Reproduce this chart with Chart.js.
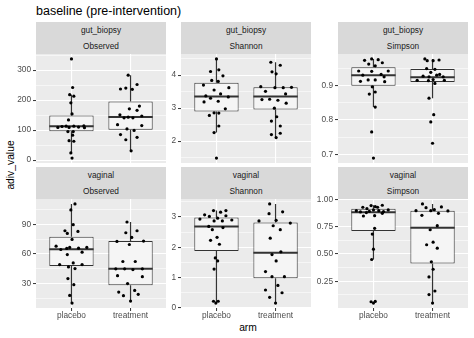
<!DOCTYPE html>
<html>
<head>
<meta charset="utf-8">
<script src="https://cdn.jsdelivr.net/npm/chart.js@4.4.1/dist/chart.umd.min.js"></script>
<style>
  body { margin: 0; background: #fff; font-family: "Liberation Sans", Arial, sans-serif; }
  #fig { position: relative; width: 474px; height: 338px; overflow: hidden; background: #fff; }
  .strip { position: absolute; background: #D9D9D9; color: #1A1A1A; font-size: 8.3px; text-align: center; }
  .strip div { height: 16px; line-height: 16px; }
  .panel { position: absolute; }
  #title { position: absolute; left: 36px; top: 3px; font-size: 12.5px; line-height: 16px; color: #000; }
  #xlab { position: absolute; left: 208px; width: 80px; top: 320px; font-size: 10.3px; line-height: 16px; text-align: center; color: #000; }
  #ylab { position: absolute; left: 10px; top: 165px; transform: translate(-50%, -50%) rotate(-90deg); font-size: 10.3px; white-space: nowrap; color: #000; }
</style>
</head>
<body>
<div id="fig">
  <div id="title">baseline (pre-intervention)</div>
  <div id="ylab">adiv_value</div>
  <div id="xlab">arm</div>
</div>
<script>
Chart.defaults.font.family = '"Liberation Sans", Arial, sans-serif';

const arms = ['placebo', 'treatment'];
const sites = ['gut_biopsy', 'gut_biopsy', 'gut_biopsy', 'vaginal', 'vaginal', 'vaginal'];
const metrics = ['Observed', 'Shannon', 'Simpson', 'Observed', 'Shannon', 'Simpson'];

// points: values and horizontal jitter (offset from the arm position)
const gutObsPlacebo = [337, 242, 218, 213, 191, 154, 134, 109, 112, 113, 109, 113, 110, 114, 108, 95, 95, 83, 65, 63, 24, 7];
const gutObsPlaceboJit = [0, 0.02, -0.03, 0.04, -0.01, 0.01, -0.05, -0.23, -0.16, -0.09, -0.04, 0.04, 0.12, 0.21, 0.22, -0.06, 0.03, 0.02, -0.04, 0.04, -0.01, 0.01];
const gutObsTreatment = [283, 237, 240, 236, 252, 171, 180, 166, 151, 141, 143, 141, 147, 118, 104, 99, 115, 85, 68, 76, 31];
const gutObsTreatmentJit = [-0.04, -0.17, -0.08, 0.03, 0.11, -0.02, 0.15, 0.11, -0.18, -0.11, -0.04, 0.04, 0.19, -0.22, -0.06, 0.06, 0.19, -0.17, -0.08, 0.11, 0.01];

const gutShanPlacebo = [4.49, 4.11, 4.16, 3.98, 3.84, 3.81, 3.70, 3.62, 3.55, 3.43, 3.37, 3.30, 3.34, 3.19, 3.21, 2.98, 2.86, 2.85, 2.78, 2.46, 2.26, 1.49];
const gutShanPlaceboJit = [0, -0.10, 0.04, 0.11, -0.08, 0.03, -0.22, 0.21, -0.04, 0.07, -0.18, -0.10, 0.20, -0.21, 0.03, 0.15, -0.04, 0.04, -0.12, 0.04, -0.04, 0];
const gutShanTreatment = [4.39, 4.30, 4.10, 4.04, 3.65, 3.51, 3.62, 3.62, 3.63, 3.43, 3.26, 3.27, 3.24, 3.15, 3.00, 2.74, 2.61, 2.46, 2.20, 2.24, 2.11];
const gutShanTreatmentJit = [-0.08, 0.08, -0.06, 0.01, -0.25, -0.17, -0.01, 0.13, 0.27, 0.17, -0.23, -0.10, 0.04, 0.18, -0.02, 0.02, -0.07, 0.08, -0.07, 0.08, 0.01];

const gutSimpPlacebo = [0.973, 0.977, 0.975, 0.962, 0.966, 0.957, 0.942, 0.941, 0.942, 0.930, 0.932, 0.925, 0.912, 0.916, 0.916, 0.911, 0.896, 0.875, 0.881, 0.837, 0.765, 0.689];
const gutSimpPlaceboJit = [-0.15, -0.03, 0.08, -0.08, 0.15, 0.03, -0.25, -0.03, 0.25, -0.18, 0.13, 0.18, -0.22, -0.09, 0.03, 0.19, -0.02, -0.07, 0.03, 0.03, -0.03, 0];
const gutSimpTreatment = [0.977, 0.972, 0.972, 0.974, 0.949, 0.947, 0.938, 0.932, 0.927, 0.925, 0.930, 0.925, 0.915, 0.914, 0.917, 0.915, 0.906, 0.863, 0.815, 0.794, 0.732];
const gutSimpTreatmentJit = [-0.13, -0.09, 0.01, 0.11, -0.10, 0.04, -0.03, 0.12, -0.16, -0.06, 0.07, 0.18, -0.26, -0.07, 0.01, 0.20, 0.04, -0.06, 0.02, -0.03, 0];

const vagObsPlacebo = [110.8, 104.7, 89.7, 83.5, 80.8, 82.8, 74.7, 67.8, 64.4, 65.5, 66.5, 65.8, 66.5, 61.7, 59.3, 49.1, 50.8, 49.1, 46.7, 45.0, 34.8, 28.6, 17.7, 9.9];
const vagObsPlaceboJit = [0.06, -0.01, 0.03, -0.11, -0.07, 0.11, 0.01, -0.26, -0.18, -0.08, -0.03, 0.12, 0.26, 0.18, -0.07, -0.20, 0.03, 0.18, -0.05, 0.06, -0.06, 0.04, -0.03, 0.01];
const vagObsTreatment = [92.4, 81.5, 83.5, 76.7, 72.6, 73.0, 69.5, 52.2, 52.2, 44.7, 44.7, 44.0, 44.7, 37.8, 36.8, 29.7, 21.1, 17.4, 22.8, 18.8, 11.9];
const vagObsTreatmentJit = [-0.06, -0.08, 0.11, 0.02, -0.23, 0.22, -0.02, -0.13, 0.08, -0.25, -0.10, 0.04, 0.20, -0.22, 0.20, -0.05, -0.20, -0.12, 0.07, 0.13, 0];

const vagShanPlacebo = [3.21, 3.16, 3.21, 3.07, 3.02, 2.96, 2.93, 2.87, 2.87, 3.04, 2.90, 2.69, 2.65, 2.58, 2.33, 2.23, 2.10, 1.65, 1.55, 1.28, 0.22, 0.16, 0.22];
const vagShanPlaceboJit = [-0.05, 0.07, 0.16, -0.20, -0.12, 0.02, -0.28, -0.04, 0.10, 0.16, 0.26, -0.13, 0.11, -0.07, 0.01, -0.10, 0.05, -0.02, 0.02, -0.04, -0.05, -0.01, 0.03];
const vagShanTreatment = [3.43, 3.11, 3.17, 2.87, 2.89, 2.71, 2.58, 2.80, 2.30, 1.85, 1.76, 1.55, 1.20, 1.03, 1.03, 0.59, 0.74, 0.50, 0.35, 0.16];
const vagShanTreatmentJit = [-0.10, -0.11, 0.12, -0.28, 0.01, -0.04, 0.08, 0.25, -0.09, 0.09, -0.06, 0.01, -0.17, -0.06, 0.15, -0.17, 0.04, 0.11, -0.10, 0];

const vagSimpPlacebo = [0.927, 0.914, 0.942, 0.933, 0.927, 0.945, 0.896, 0.884, 0.878, 0.890, 0.902, 0.896, 0.887, 0.902, 0.871, 0.847, 0.850, 0.734, 0.682, 0.544, 0.449, 0.063, 0.051, 0.066];
const vagSimpPlaceboJit = [-0.18, -0.11, -0.04, 0.03, 0.07, 0.15, -0.29, -0.22, -0.12, -0.07, 0, 0.09, 0.17, 0.25, 0.15, -0.17, 0.02, 0.02, -0.02, 0, -0.03, -0.04, 0, 0.03];
const vagSimpTreatment = [0.957, 0.923, 0.896, 0.905, 0.896, 0.871, 0.893, 0.930, 0.853, 0.758, 0.721, 0.608, 0.584, 0.553, 0.428, 0.360, 0.290, 0.161, 0.128, 0.051];
const vagSimpTreatmentJit = [-0.17, -0.11, -0.03, 0.03, -0.28, 0.10, 0.26, 0.15, -0.18, 0.08, -0.04, 0.01, -0.10, 0.08, -0.02, 0.01, -0.06, 0.04, -0.06, 0];

// box stats per arm: [lower whisker, q1, median, q3, upper whisker]
const gutObsBox = [[24, 96, 113, 149, 218], [31, 101, 144, 195, 283]];
const gutShanBox = [[2.26, 2.90, 3.35, 3.77, 4.49], [2.11, 2.96, 3.35, 3.63, 4.39]];
const gutSimpBox = [[0.837, 0.899, 0.930, 0.953, 0.977], [0.863, 0.910, 0.924, 0.948, 0.977]];
const vagObsBox = [[9.9, 47.7, 64.8, 77.4, 110.8], [11.9, 28.0, 44.7, 73.0, 92.4]];
const vagShanBox = [[0.16, 1.88, 2.69, 2.98, 3.21], [0.16, 0.98, 1.82, 2.82, 3.43]];
const vagSimpBox = [[0.449, 0.709, 0.881, 0.914, 0.945], [0.051, 0.412, 0.740, 0.896, 0.957]];

// y tick values and labels
const gutObsTicks = [0, 100, 200, 300];
const gutObsTickLabels = ['0', '100', '200', '300'];
const gutShanTicks = [2, 3, 4];
const gutShanTickLabels = ['2', '3', '4'];
const gutSimpTicks = [0.7, 0.8, 0.9];
const gutSimpTickLabels = ['0.7', '0.8', '0.9'];
const vagObsTicks = [30, 60, 90];
const vagObsTickLabels = ['30', '60', '90'];
const vagShanTicks = [0, 1, 2, 3];
const vagShanTickLabels = ['0', '1', '2', '3'];
const vagSimpTicks = [0.25, 0.5, 0.75, 1];
const vagSimpTickLabels = ['0.25', '0.50', '0.75', '1.00'];

const panels = [
  { pl: gutObsPlacebo, plJ: gutObsPlaceboJit, tr: gutObsTreatment, trJ: gutObsTreatmentJit, box: gutObsBox, ticks: gutObsTicks, labels: gutObsTickLabels },
  { pl: gutShanPlacebo, plJ: gutShanPlaceboJit, tr: gutShanTreatment, trJ: gutShanTreatmentJit, box: gutShanBox, ticks: gutShanTicks, labels: gutShanTickLabels },
  { pl: gutSimpPlacebo, plJ: gutSimpPlaceboJit, tr: gutSimpTreatment, trJ: gutSimpTreatmentJit, box: gutSimpBox, ticks: gutSimpTicks, labels: gutSimpTickLabels },
  { pl: vagObsPlacebo, plJ: vagObsPlaceboJit, tr: vagObsTreatment, trJ: vagObsTreatmentJit, box: vagObsBox, ticks: vagObsTicks, labels: vagObsTickLabels },
  { pl: vagShanPlacebo, plJ: vagShanPlaceboJit, tr: vagShanTreatment, trJ: vagShanTreatmentJit, box: vagShanBox, ticks: vagShanTicks, labels: vagShanTickLabels },
  { pl: vagSimpPlacebo, plJ: vagSimpPlaceboJit, tr: vagSimpTreatment, trJ: vagSimpTreatmentJit, box: vagSimpBox, ticks: vagSimpTicks, labels: vagSimpTickLabels }
];

// layout
const plotLefts = [36, 181, 338];
const plotTops = [54, 199];
const axisWidths = [36, 24, 30];
const PLOT_W = 130, PLOT_H = 109, STRIP_H = 32;
const PAD_T = 7, PAD_B = 7, PAD_R = 2, XAXIS_H = 22;
const BOX_W = 0.75;
const FONT_SMALL = 8.3;

const fig = document.getElementById('fig');

// grey panel background
const panelBg = {
  id: 'panelBg',
  beforeDraw(chart) {
    const { ctx, chartArea: a } = chart;
    ctx.save();
    ctx.fillStyle = '#EBEBEB';
    ctx.fillRect(a.left, a.top, a.right - a.left, a.bottom - a.top);
    ctx.restore();
  }
};

const minorTicks = (ticks, lo, hi) => {
  const step = ticks[1] - ticks[0];
  const ext = [ticks[0] - step, ...ticks, ticks[ticks.length - 1] + step];
  const out = [];
  for (let i = 0; i < ext.length - 1; i++) {
    const m = (ext[i] + ext[i + 1]) / 2;
    if (m > lo && m < hi) out.push(m);
  }
  return out;
};

panels.forEach((p, i) => {
  const col = i % 3, row = Math.floor(i / 3);
  const bottomRow = row === 1;
  const plotLeft = plotLefts[col], plotTop = plotTops[row];
  const axisW = axisWidths[col];

  // strip
  const strip = document.createElement('div');
  strip.className = 'strip';
  strip.style.left = plotLeft + 'px';
  strip.style.top = (plotTop - STRIP_H) + 'px';
  strip.style.width = PLOT_W + 'px';
  strip.style.height = STRIP_H + 'px';
  strip.innerHTML = `<div>${sites[i]}</div><div>${metrics[i]}</div>`;
  fig.appendChild(strip);

  // canvas
  const xH = bottomRow ? XAXIS_H : 0;
  const w = axisW + PLOT_W + PAD_R;
  const h = PAD_T + PLOT_H + xH + PAD_B;
  const holder = document.createElement('div');
  holder.className = 'panel';
  holder.style.left = (plotLeft - axisW) + 'px';
  holder.style.top = (plotTop - PAD_T) + 'px';
  const canvas = document.createElement('canvas');
  canvas.width = w; canvas.height = h;
  canvas.style.width = w + 'px'; canvas.style.height = h + 'px';
  holder.appendChild(canvas);
  fig.appendChild(holder);

  // y limits: data range with 5% expansion
  const all = [...p.pl, ...p.tr, ...p.box.flat()];
  const dMin = Math.min(...all), dMax = Math.max(...all);
  const pad = (dMax - dMin) * 0.05;
  const yMin = dMin - pad, yMax = dMax + pad;
  const minors = minorTicks(p.ticks, yMin, yMax);

  const points = [];
  p.pl.forEach((v, k) => points.push({ x: 1 + p.plJ[k], y: v }));
  p.tr.forEach((v, k) => points.push({ x: 2 + p.trJ[k], y: v }));

  const whiskers = [], medians = [], boxes = [];
  p.box.forEach((b, g) => {
    const x = g + 1;
    whiskers.push({ x, y: b[0] }, { x, y: b[1] }, { x, y: null }, { x, y: b[3] }, { x, y: b[4] }, { x, y: null });
    medians.push({ x: x - BOX_W / 2, y: b[2] }, { x: x + BOX_W / 2, y: b[2] }, { x: x + 0.5, y: null });
    boxes.push({ x, y: [b[1], b[3]] });
  });

  new Chart(canvas, {
    type: 'scatter',
    data: {
      datasets: [
        { type: 'scatter', data: points, pointRadius: 1.6, pointBackgroundColor: '#000', pointBorderWidth: 0, order: 0 },
        { type: 'line', data: medians, borderColor: '#333333', borderWidth: 2, pointRadius: 0, spanGaps: false, order: 1 },
        { type: 'bar', data: boxes, backgroundColor: '#F5F5F5', borderColor: '#333333', borderWidth: 1, borderSkipped: false, barPercentage: BOX_W, categoryPercentage: 1, order: 2 },
        { type: 'line', data: whiskers, borderColor: '#333333', borderWidth: 1.2, pointRadius: 0, spanGaps: false, order: 3 }
      ]
    },
    options: {
      responsive: false,
      animation: false,
      events: [],
      layout: { padding: { top: PAD_T, bottom: PAD_B, left: 0, right: PAD_R }, autoPadding: false },
      plugins: { legend: { display: false }, tooltip: { enabled: false } },
      scales: {
        x: {
          type: 'linear', min: 0.4, max: 2.6, offset: false,
          afterBuildTicks: s => { s.ticks = [{ value: 1 }, { value: 2 }]; },
          afterFit: s => { s.height = xH; },
          border: { display: false },
          grid: { color: '#FFFFFF', lineWidth: 1.1, offset: false, drawTicks: bottomRow, tickColor: '#333333', tickLength: 3, tickWidth: 1 },
          ticks: {
            display: bottomRow, padding: 0, maxRotation: 0, autoSkip: false,
            color: '#4D4D4D', font: { size: FONT_SMALL },
            callback: v => arms[Math.round(v) - 1]
          }
        },
        y: {
          type: 'linear', min: yMin, max: yMax,
          afterBuildTicks: s => {
            s.ticks = [...p.ticks.map(v => ({ value: v })), ...minors.map(v => ({ value: v, minor: true }))]
              .sort((a, b) => a.value - b.value);
          },
          afterFit: s => { s.width = axisW; },
          border: { display: false },
          grid: {
            color: '#FFFFFF',
            lineWidth: c => (c.tick && c.tick.minor ? 0.55 : 1.1),
            tickColor: c => (c.tick && c.tick.minor ? 'rgba(0,0,0,0)' : '#333333'),
            tickLength: 3, tickWidth: 1
          },
          ticks: {
            padding: 2, autoSkip: false, color: '#4D4D4D', font: { size: FONT_SMALL },
            callback: (v, idx, ticks) => (ticks[idx].minor ? '' : p.labels[p.ticks.indexOf(v)])
          }
        }
      }
    },
    plugins: [panelBg]
  });
});
</script>
</body>
</html>
